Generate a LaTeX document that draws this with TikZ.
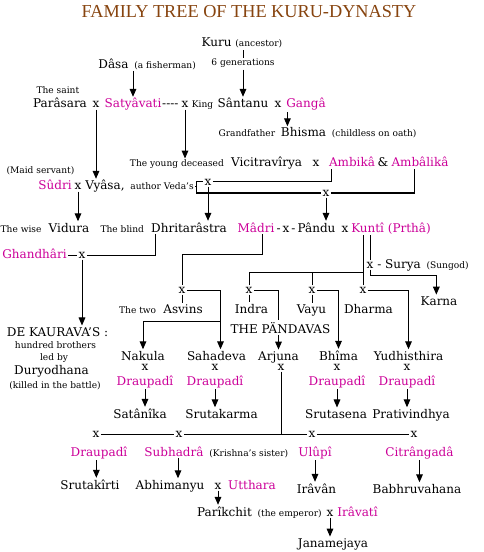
\documentclass[tikz,border=0pt]{standalone}
\usepackage{fontspec}
\setmainfont{DejaVu Serif}
\newfontfamily\headfont{Liberation Serif}
\usetikzlibrary{positioning,arrows.meta}
\definecolor{queen}{RGB}{204,0,153}
\definecolor{heading}{RGB}{135,68,15}
\newcommand{\namesize}{\fontsize{9}{10}\selectfont}
\newcommand{\notesize}{\fontsize{6.8}{7.5}\selectfont}
\tikzset{
person/.style={font=\namesize,inner sep=1pt,anchor=base},
wife/.style={person,text=queen},
note/.style={font=\notesize,inner sep=1pt,anchor=base},
wed/.style={font=\namesize,inner sep=1pt,anchor=base},
wedmid/.style={font=\namesize,inner sep=1pt,anchor=center},
link/.style={line width=0.75pt},
descent/.style={link,-{Triangle[length=6pt,width=5pt]}}
}

\begin{document}
\begin{tikzpicture}[x=0.75pt,y=-0.75pt]
\fill[white] (0,0) rectangle (483,552);
\useasboundingbox (0,0) rectangle (483,552);

\node[font=\headfont\fontsize{13.7}{16}\selectfont,text=heading] (title) at (249,12) {FAMILY TREE OF THE KURU-DYNASTY};

\node[person] (kuru) at (242,47) {Kuru {\notesize(ancestor)}};
\node[note] (gen) at (243,66) {6 generations};
\node[person] (dasa) at (113.5,69) {Dâsa};
\node[note,base right=2pt of dasa] (dasanote) {(a fisherman)};

\node[note,anchor=base west] (saint) at (35,94) {The saint};
\node[person] (parasara) at (60,108) {Parâsara};
\node[wed] (x1) at (96,108) {x};
\node[wife] (satya) at (133,108) {Satyâvati};
\node[wed] (xss) at (185,108) {x};
\node[person,base left=0pt of xss] (dashes) {-{}-{}-{}-};
\node[person] (santanu) at (243,108) {Sântanu};
\node[note,base left=1pt of santanu] (king) {King};
\node[wed] (x2) at (278,108) {x};
\node[wife] (ganga) at (306,108) {Gangâ};

\node[person] (bhisma) at (303.5,137) {Bhisma};
\node[note,base left=2pt of bhisma] (grandf) {Grandfather};
\node[note,base right=2pt of bhisma] (oath) {(childless on oath)};

\node[person] (vicit) at (266.5,167) {Vicitravîrya};
\node[note,base left=3pt of vicit] (young) {The young deceased};
\node[wed] (x3) at (316,167) {x};
\node[wife] (ambika) at (352,167) {Ambikâ};
\node[person] (amp) at (383,167) {\&};
\node[wife] (ambalika) at (420,167) {Ambâlikâ};

\node[note,anchor=base west] (maid) at (5,174) {(Maid servant)};
\node[wife] (sudri) at (55,190) {Sûdri};
\node[wed] (x4) at (78,190) {x};
\node[person] (vyasa) at (105,190) {Vyâsa,};
\node[note,base right=2pt of vyasa] (author) {author Veda's};
\node[wedmid] (xa) at (208,182) {x};
\node[wedmid] (xb) at (326,193) {x};
\coordinate (br) at (196,187);

\node[person] (vidura) at (69,232) {Vidura};
\node[note,base left=3pt of vidura] (wise) {The wise};
\node[person] (dhrita) at (189,232) {Dhritarâstra};
\node[note,base left=3pt of dhrita] (blind) {The blind};
\node[wife] (madri) at (256,232) {Mâdri};
\node[wed] (xmp) at (286,232) {-\,x\,-};
\node[person] (pandu) at (316.5,232) {Pându};
\node[wed] (x5) at (345,232) {x};
\node[wife] (kunti) at (391,232) {Kuntî (Prthâ)};

\node[wife] (ghand) at (34.5,258) {Ghandhâri};
\node[wedmid] (xg) at (82,255) {x};
\node[wedmid] (xsur) at (370,265) {x};
\node[person,base right=0.5pt of xsur] (surya) {-\ Surya};
\node[note,base right=2pt of surya] (sungod) {(Sungod)};
\node[person] (karna) at (439,305) {Karna};

\node[wedmid] (xasv) at (182,290) {x};
\node[wedmid] (xind) at (249,290) {x};
\node[wedmid] (xvay) at (312,290) {x};
\node[wedmid] (xdha) at (363,290) {x};
\node[person] (asvins) at (183,313) {Asvins};
\node[note,base left=3pt of asvins] (twoasv) {The two};
\node[person] (indra) at (251.5,313) {Indra};
\node[person] (vayu) at (311.5,313) {Vayu};
\node[person] (dharma) at (368.5,313) {Dharma};
\node[person] (pandavas) at (280.5,333) {THE PÄNDAVAS};

\node[person] (kaur) at (57.5,336) {DE KAURAVA’S :};
\node[note] (hund) at (55.5,348) {hundred brothers};
\node[note] (ledby) at (54,360) {led by};
\node[person] (dury) at (51.5,374) {Duryodhana};
\node[note] (killed) at (55,388) {(killed in the battle)};

\node[person] (nakula) at (143,360) {Nakula};
\node[person] (sahad) at (216.5,360) {Sahadeva};
\node[person] (arjuna) at (278.5,360) {Arjuna};
\node[person] (bhima) at (338.5,360) {Bhîma};
\node[person] (yudh) at (408.5,360) {Yudhisthira};
\node[wedmid] (xn) at (145,367) {x};
\node[wedmid] (xs) at (215,367) {x};
\node[wedmid] (xar) at (281,367) {x};
\node[wedmid] (xbh) at (337,367) {x};
\node[wedmid] (xy) at (407,367) {x};
\node[wife] (dn) at (145,385) {Draupadî};
\node[wife] (ds) at (215,385) {Draupadî};
\node[wife] (dbh) at (337,385) {Draupadî};
\node[wife] (dy) at (407,385) {Draupadî};
\node[person] (satan) at (140,418) {Satânîka};
\node[person] (sruk) at (221.5,418) {Srutakarma};
\node[person] (srus) at (336,418) {Srutasena};
\node[person] (prati) at (411,418) {Prativindhya};

\node[wedmid] (xw1) at (96,434) {x};
\node[wedmid] (xw2) at (179,434) {x};
\node[wedmid] (xw3) at (312,434) {x};
\node[wedmid] (xw4) at (414,434) {x};
\node[wife] (w1) at (99,456) {Draupadî};
\node[wife] (w2) at (174,456) {Subhadrâ};
\node[note,base right=2pt of w2] (krish) {(Krishna's sister)};
\node[wife] (w3) at (315,456) {Ulûpî};
\node[wife] (w4) at (419.5,456) {Citrângadâ};

\node[person] (srutki) at (90,489) {Srutakîrti};
\node[person] (abhi) at (170,489) {Abhimanyu};
\node[wed] (xab) at (218,489) {x};
\node[wife] (utth) at (252,489) {Utthara};
\node[person] (iravan) at (316.5,493) {Irâvân};
\node[person] (babh) at (417,493) {Babhruvahana};
\node[person] (pari) at (224.5,516) {Parîkchit};
\node[note,base right=2pt of pari] (emp) {(the emperor)};
\node[wed] (xpi) at (330,516) {x};
\node[wife] (irav) at (357.5,516) {Irâvatî};
\node[person] (jana) at (333,547) {Janamejaya};

\draw[link] (gen.north |- kuru.south) -- (gen.north);
\draw[descent] (gen.south) -- (santanu.north);
\draw[descent] (satya.north |- dasa.south) -- (satya.north);
\draw[descent] ([xshift=2pt]ganga.south west) -- ([xshift=2pt]ganga.south west |- bhisma.north);
\draw[descent] (x1.south) -- (x1.south |- vyasa.north);
\draw[descent] (xss.south) -- (xss.south |- young.north);

\draw[link] (author.east) -- (author.east -| br);
\draw[link] (br |- xa) -- (br |- xb);
\draw[link] (br |- xa) -- (xa.west);
\draw[link] (xa.east) -| ([xshift=3pt]ambika.south west);
\draw[link] (br |- xb) -- (xb.west);
\draw[link] (xb.east) -| ([xshift=-4pt]ambalika.south);
\draw[descent] (xa.south) -- (xa.south |- dhrita.north);
\draw[descent] (xb.south) -- (xb.south |- pandu.north);
\draw[descent] (x4.south) -- (x4.south |- vidura.north);

\draw[link] (ghand.east |- xg) -- (xg.west);
\draw[link] (xg.east) -| ([xshift=4.5pt]dhrita.south west);
\draw[descent] (xg.south) -- (xg.south |- kaur.north);

\coordinate (mj) at (0,254);
\draw[link] ([xshift=5pt]madri.south) |- (xasv.north |- mj) -- (xasv.north);
\draw[link] (xdha.north) -- (xdha.north |- kunti.south);
\draw[link] (xsur.north) -- (xsur.north |- kunti.south);
\coordinate (sj) at (0,275);
\draw[descent] (xsur.south) |- ([xshift=-2pt]karna.north |- sj) -- ([xshift=-2pt]karna.north);
\coordinate (bj) at (0,272);
\draw[link] (xind.north) |- (xdha.north |- bj);
\draw[link] (xvay.north) -- (xvay.north |- bj);

\draw[descent] (xasv.east) -| ([xshift=3pt]sahad.north);
\draw[link] (xasv.south) -- (xasv.south |- asvins.north);
\coordinate (aj) at (0,321);
\draw[descent] ([xshift=3pt]sahad.north |- aj) -| (nakula.north);
\draw[link] (xind.east) -| (arjuna.north |- pandavas.north);
\draw[descent] (arjuna.north |- pandavas.south) -- (arjuna.north);
\draw[link] (xind.south) -- (xind.south |- indra.north);
\draw[descent] (xvay.east) -| (bhima.north);
\draw[link] (xvay.south) -- (xvay.south |- vayu.north);
\draw[descent] (xdha.east) -| (yudh.north);

\draw[descent] (dn.south) -- (dn.south |- satan.north);
\draw[descent] (ds.south) -- (ds.south |- sruk.north);
\draw[descent] (dbh.south) -- (dbh.south |- srus.north);
\draw[descent] (dy.south) -- (dy.south |- prati.north);

\draw[link] (xar.south) -- (xar.south |- xw2);
\draw[link] (xw1.east) -- (xw2.west);
\draw[link] (xw2.east) -- (xw3.west);
\draw[link] (xw3.east) -- (xw4.west);

\draw[descent] ([xshift=-2pt]w1.south) -- ([xshift=-2pt]w1.south |- srutki.north);
\draw[descent] ([xshift=3pt]w2.south) -- ([xshift=3pt]w2.south |- abhi.north);
\draw[descent] (w3.south) -- (w3.south |- iravan.north);
\draw[descent] (w4.south) -- (w4.south |- babh.north);
\draw[descent] (xab.south) -- (xab.south |- pari.north);
\draw[descent] (xpi.south) -- (xpi.south |- jana.north);
\end{tikzpicture}
\end{document}
